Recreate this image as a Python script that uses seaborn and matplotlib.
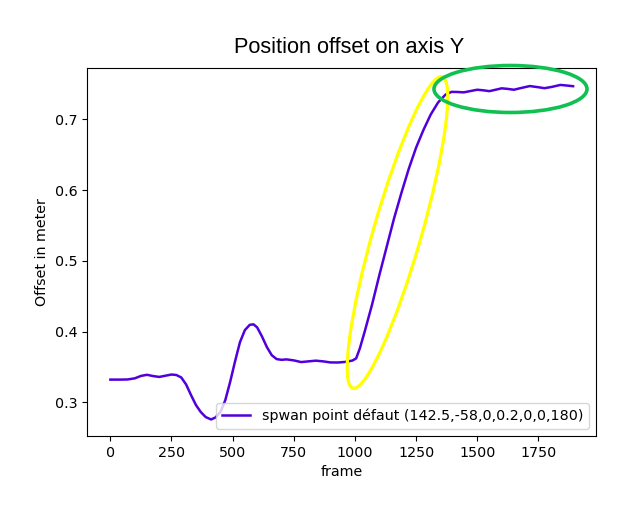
import matplotlib
matplotlib.use("Agg")
import matplotlib.pyplot as plt
from matplotlib.patches import Ellipse
from matplotlib.transforms import IdentityTransform
import seaborn as sns

# values
frames = [0, 40, 70, 100, 125, 150, 175, 200, 225, 250, 270, 290, 310, 330,
          350, 370, 390, 412, 430, 450, 470, 490, 510, 530, 550, 570, 585,
          600, 620, 640, 660, 680, 700, 720, 750, 780, 810, 840, 870, 900,
          930, 960, 990, 1005, 1020, 1040, 1070, 1100, 1130, 1160, 1190,
          1220, 1250, 1280, 1310, 1340, 1370, 1395, 1420, 1445, 1470, 1500,
          1525, 1550, 1575, 1600, 1625, 1650, 1680, 1715, 1745, 1775, 1805,
          1840, 1865, 1892]
offsets = [0.332, 0.332, 0.3322, 0.3338, 0.3372, 0.3388, 0.3370, 0.3358,
           0.3375, 0.3392, 0.3385, 0.3350, 0.3250, 0.3100, 0.2960, 0.2860,
           0.2790, 0.2756, 0.2785, 0.2860, 0.3030, 0.3290, 0.3580, 0.3850,
           0.4020, 0.4095, 0.4102, 0.4060, 0.3930, 0.3780, 0.3665, 0.3610,
           0.3600, 0.3606, 0.3592, 0.3568, 0.3578, 0.3588, 0.3578, 0.3563,
           0.3562, 0.3570, 0.3590, 0.3620, 0.3760, 0.4000, 0.4380, 0.4800,
           0.5200, 0.5600, 0.5960, 0.6300, 0.6600, 0.6850, 0.7070, 0.7240,
           0.7350, 0.7390, 0.7388, 0.7383, 0.7400, 0.7420, 0.7412, 0.7400,
           0.7420, 0.7440, 0.7432, 0.7420, 0.7445, 0.7472, 0.7458, 0.7442,
           0.7460, 0.7488, 0.7480, 0.7470]
label = "spwan point défaut (142.5,-58,0,0.2,0,0,180)"

plt.rcParams["font.family"] = ["DejaVu Sans"]
fig = plt.figure(figsize=(6.23, 5.09), dpi=100)
ax = fig.add_axes([0.14, 0.143, 0.817, 0.723])

sns.lineplot(x=frames, y=offsets, ax=ax, color="#5000dc", linewidth=1.8,
             label=label)
ax.set_title("Position offset on axis Y", fontsize=15.7,
             family="Liberation Sans", pad=11, x=0.515)
ax.set_xlabel("frame", fontsize=10.3)
ax.set_ylabel("Offset in meter", fontsize=10.3)
ax.set_yticks([0.3, 0.4, 0.5, 0.6, 0.7])
ax.tick_params(labelsize=10.3)
ax.legend(loc="lower right", fontsize=10.3)

# hand drawn highlight ellipses (display pixels, origin bottom-left)
yellow = Ellipse((397.5, 276.5), 324, 48, angle=74, fill=False,
                 edgecolor="#ffff00", linewidth=2.3,
                 transform=IdentityTransform(), clip_on=False)
green = Ellipse((510.5, 420), 153, 47, angle=0, fill=False,
                edgecolor="#10c050", linewidth=2.6,
                transform=IdentityTransform(), clip_on=False)
fig.patches.extend([yellow, green])

fig.savefig("out.png", dpi=100)
